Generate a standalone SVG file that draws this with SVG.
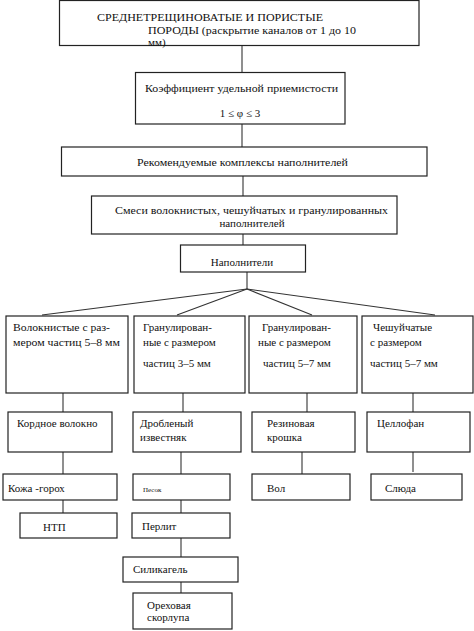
<svg xmlns="http://www.w3.org/2000/svg" width="474" height="631" viewBox="0 0 474 631" font-family="Liberation Serif, Times New Roman, serif">
<style>
.b{fill:#fff;stroke:#222;stroke-width:1.2}
.c{fill:none;stroke:#333;stroke-width:1.1}
text{font-size:11px;fill:#111}
.m{text-anchor:middle}
</style>
<rect width="474" height="631" fill="#fff"/>
<g id="connectors">
<line class="c" x1="242" y1="45" x2="242" y2="72"/>
<line class="c" x1="242" y1="124" x2="242" y2="147"/>
<line class="c" x1="243" y1="176" x2="243" y2="196"/>
<line class="c" x1="243" y1="234" x2="243" y2="245"/>
<line class="c" x1="247" y1="272" x2="247" y2="289"/>
<line class="c" x1="247" y1="289" x2="42" y2="315"/>
<line class="c" x1="247" y1="289" x2="177" y2="315"/>
<line class="c" x1="247" y1="289" x2="312" y2="315"/>
<line class="c" x1="247" y1="289" x2="435" y2="315"/>
<line class="c" x1="63" y1="393" x2="63" y2="412"/>
<line class="c" x1="183" y1="393" x2="183" y2="412"/>
<line class="c" x1="307" y1="393" x2="307" y2="412"/>
<line class="c" x1="413" y1="393" x2="413" y2="412"/>
<line class="c" x1="63" y1="452" x2="63" y2="474"/>
<line class="c" x1="181" y1="452" x2="181" y2="474"/>
<line class="c" x1="302" y1="452" x2="302" y2="474"/>
<line class="c" x1="413" y1="452" x2="413" y2="472"/>
<line class="c" x1="63" y1="500" x2="63" y2="513"/>
<line class="c" x1="181" y1="500" x2="181" y2="513"/>
<line class="c" x1="181" y1="538" x2="181" y2="557"/>
<line class="c" x1="181" y1="582" x2="181" y2="593"/>
</g>
<g id="n-top">
<rect class="b" x="59.5" y="0.5" width="359.5" height="45"/>
<text x="97" y="21" textLength="226" lengthAdjust="spacingAndGlyphs">СРЕДНЕТРЕЩИНОВАТЫЕ И ПОРИСТЫЕ</text>
<text x="148" y="34" textLength="208" lengthAdjust="spacingAndGlyphs">ПОРОДЫ (раскрытие каналов от 1 до 10</text>
<text x="148" y="46">мм)</text>
</g>
<g id="n-coef">
<rect class="b" x="135.5" y="72.5" width="209.5" height="51.5"/>
<text x="145" y="92" textLength="193" lengthAdjust="spacingAndGlyphs">Коэффициент удельной приемистости</text>
<text class="m" x="240" y="117">1 ≤ φ ≤ 3</text>
</g>
<g id="n-rec">
<rect class="b" x="61.5" y="147" width="365.5" height="29"/>
<text x="137" y="166" textLength="211" lengthAdjust="spacingAndGlyphs">Рекомендуемые комплексы наполнителей</text>
</g>
<g id="n-mix">
<rect class="b" x="91.5" y="196" width="305.5" height="38"/>
<text x="115" y="214" textLength="273" lengthAdjust="spacingAndGlyphs">Смеси волокнистых, чешуйчатых и гранулированных</text>
<text class="m" x="252" y="227">наполнителей</text>
</g>
<g id="n-fill">
<rect class="b" x="180.5" y="245" width="125" height="27"/>
<text class="m" x="242" y="266">Наполнители</text>
</g>
<g id="n-fib">
<rect class="b" x="6" y="316" width="122" height="77"/>
<text x="13" y="331" textLength="97" lengthAdjust="spacingAndGlyphs">Волокнистые с раз-</text>
<text x="13" y="346" textLength="107" lengthAdjust="spacingAndGlyphs">мером частиц 5–8 мм</text>
</g>
<g id="n-gr1">
<rect class="b" x="134" y="316" width="111" height="77"/>
<text x="143" y="331">Гранулирован-</text>
<text x="143" y="346">ные с размером</text>
<text x="143" y="367">частиц 3–5 мм</text>
</g>
<g id="n-gr2">
<rect class="b" x="249" y="316" width="108" height="77"/>
<text x="262" y="331">Гранулирован-</text>
<text x="258" y="346">ные с размером</text>
<text x="263" y="367">частиц 5–7 мм</text>
</g>
<g id="n-flake">
<rect class="b" x="362" y="316" width="111" height="77"/>
<text x="373" y="331">Чешуйчатые</text>
<text x="370" y="346">с размером</text>
<text x="370" y="367">частиц 5–7 мм</text>
</g>
<g id="n-cord">
<rect class="b" x="8" y="412" width="104" height="40"/>
<text x="17" y="427">Кордное волокно</text>
</g>
<g id="n-lime">
<rect class="b" x="133" y="412" width="108" height="40"/>
<text x="140" y="427">Дробленый</text>
<text x="140" y="441">известняк</text>
</g>
<g id="n-rubber">
<rect class="b" x="252" y="412" width="103" height="40"/>
<text x="267" y="427">Резиновая</text>
<text x="267" y="441">крошка</text>
</g>
<g id="n-cello">
<rect class="b" x="367" y="412" width="103" height="40"/>
<text x="377" y="427">Целлофан</text>
</g>
<g id="n-skin">
<rect class="b" x="3" y="474" width="114" height="26"/>
<text x="8" y="492">Кожа -горох</text>
</g>
<g id="n-sand">
<rect class="b" x="133" y="474" width="97" height="26"/>
<text x="143" y="492" style="font-size:7px">Песок</text>
</g>
<g id="n-vol">
<rect class="b" x="252" y="474" width="98" height="26"/>
<text x="267" y="492">Вол</text>
</g>
<g id="n-mica">
<rect class="b" x="371" y="474" width="91" height="26"/>
<text x="385" y="492">Слюда</text>
</g>
<g id="n-ntp">
<rect class="b" x="20" y="513" width="97" height="25"/>
<text x="43" y="531">НТП</text>
</g>
<g id="n-perl">
<rect class="b" x="132" y="513" width="98" height="25"/>
<text x="142" y="530">Перлит</text>
</g>
<g id="n-silica">
<rect class="b" x="123" y="557" width="115" height="25"/>
<text x="133" y="573">Силикагель</text>
</g>
<g id="n-nut">
<rect class="b" x="133" y="593" width="99" height="36"/>
<text x="147" y="609">Ореховая</text>
<text x="147" y="621">скорлупа</text>
</g>
</svg>
